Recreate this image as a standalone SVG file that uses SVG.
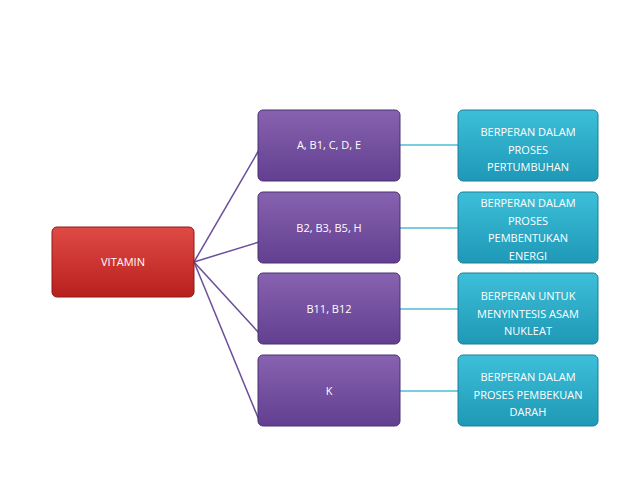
<svg xmlns="http://www.w3.org/2000/svg" width="638" height="478" viewBox="0 0 638 478">
<style>
.t{font-family:"Open Sans","Liberation Sans",sans-serif;font-size:11px;fill:#fff;text-anchor:middle}
.p{fill:url(#gp);stroke:#4a3270;stroke-width:1}
.b{fill:url(#gb);stroke:#1f7f97;stroke-width:1}
</style>
<defs>
<linearGradient id="gr" x1="0" y1="0" x2="0" y2="1"><stop offset="0" stop-color="#e04a45"/><stop offset="1" stop-color="#b8201e"/></linearGradient>
<linearGradient id="gp" x1="0" y1="0" x2="0" y2="1"><stop offset="0" stop-color="#8762b0"/><stop offset="1" stop-color="#623f90"/></linearGradient>
<linearGradient id="gb" x1="0" y1="0" x2="0" y2="1"><stop offset="0" stop-color="#3dbfd9"/><stop offset="1" stop-color="#1e98b6"/></linearGradient>
</defs>
<rect width="638" height="478" fill="#fff"/>
<g id="connectors" fill="none" stroke-width="1.5">
<g stroke="#6b4e9a">
<path d="M194 262L259 150"/><path d="M194 262L259 242"/><path d="M194 262L259 333"/><path d="M194 262L259 420"/>
</g>
<g stroke="#4bbcd6">
<path d="M400 145H458"/><path d="M400 228H458"/><path d="M400 309H458"/><path d="M400 391H458"/>
</g>
</g>
<g id="vitamin"><rect x="52" y="227" width="142" height="70" rx="5" fill="url(#gr)" stroke="#8a1a18"/><text class="t" x="123" y="266">VITAMIN</text></g>
<g id="p1"><rect class="p" x="258" y="110" width="142" height="71" rx="5"/><text class="t" x="329" y="149">A, B1, C, D, E</text></g>
<g id="p2"><rect class="p" x="258" y="192" width="142" height="71" rx="5"/><text class="t" x="329" y="232">B2, B3, B5, H</text></g>
<g id="p3"><rect class="p" x="258" y="273" width="142" height="71" rx="5"/><text class="t" x="329" y="313">B11, B12</text></g>
<g id="p4"><rect class="p" x="258" y="355" width="142" height="71" rx="5"/><text class="t" x="329" y="395">K</text></g>
<g id="b1"><rect class="b" x="458" y="110" width="140" height="71" rx="5"/><text class="t" x="528" y="136">BERPERAN DALAM<tspan x="528" dy="17.5">PROSES</tspan><tspan x="528" dy="17.5">PERTUMBUHAN</tspan></text></g>
<g id="b2"><rect class="b" x="458" y="192" width="140" height="71" rx="5"/><text class="t" x="528" y="207">BERPERAN DALAM<tspan x="528" dy="17.5">PROSES</tspan><tspan x="528" dy="17.5">PEMBENTUKAN</tspan><tspan x="528" dy="17.5">ENERGI</tspan></text></g>
<g id="b3"><rect class="b" x="458" y="273" width="140" height="71" rx="5"/><text class="t" x="528" y="300">BERPERAN UNTUK<tspan x="528" dy="17.5">MENYINTESIS ASAM</tspan><tspan x="528" dy="17.5">NUKLEAT</tspan></text></g>
<g id="b4"><rect class="b" x="458" y="355" width="140" height="71" rx="5"/><text class="t" x="528" y="381">BERPERAN DALAM<tspan x="528" dy="17.5">PROSES PEMBEKUAN</tspan><tspan x="528" dy="17.5">DARAH</tspan></text></g>
</svg>
